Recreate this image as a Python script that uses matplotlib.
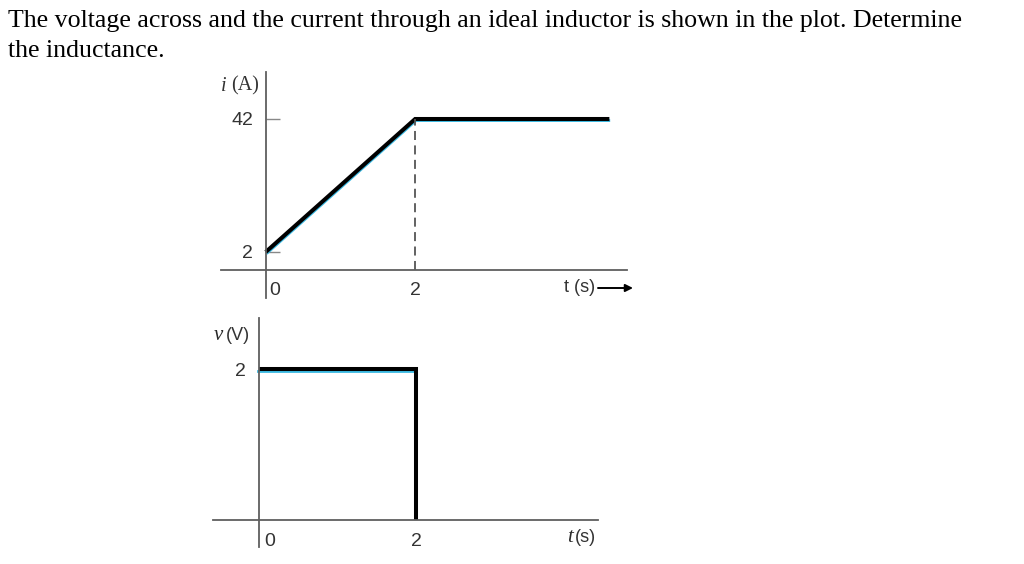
import matplotlib
matplotlib.use("Agg")
import matplotlib.pyplot as plt
import matplotlib.transforms as mtransforms

# ---- data ----
t_current = [0, 2, 4.6]
i_current = [2, 42, 42]
t_voltage = [0, 2, 2]
v_voltage = [2, 2, 0]
i_ticks = [2, 42]
i_ticklabels = ["2", "42"]
v_ticks = [2]
v_ticklabels = ["2"]
t_ticks = [0, 2]
t_ticklabels = ["0", "2"]
title_lines = ["The voltage across and the current through an ideal inductor is shown in the plot. Determine",
               "the inductance."]

plt.rcParams['mathtext.fontset'] = 'stix'
W, H = 1024, 564
fig = plt.figure(figsize=(W / 100, H / 100), dpi=100)

def px_axes(x0, y0, x1, y1):
    return fig.add_axes([x0 / W, 1 - y1 / H, (x1 - x0) / W, (y1 - y0) / H])

AX_COL = "#5f5f5f"
LBL_COL = "#333333"
TICK_FS = 14

# ---- title ----
fig.text(8 / W, 1 - 27 / H, title_lines[0], fontfamily="Liberation Serif", fontsize=18.65,
         color="black", va="baseline", ha="left")
fig.text(8 / W, 1 - 57 / H, title_lines[1], fontfamily="Liberation Serif", fontsize=18.65,
         color="black", va="baseline", ha="left")

# ---- top: current ----
ax1 = px_axes(200, 60, 640, 305)
ax1.set_xlim(-0.88, 5.01)
ax1.set_ylim(-13.94, 59.74)
ax1.patch.set_alpha(0)
for s in ["top", "right"]:
    ax1.spines[s].set_visible(False)
ax1.spines["left"].set_position(("data", 0))
ax1.spines["left"].set_bounds(-11.8, 56.1)
ax1.spines["bottom"].set_position(("data", -3.41))
ax1.spines["bottom"].set_bounds(-0.6, 4.84)
for s in ["left", "bottom"]:
    ax1.spines[s].set_color(AX_COL)
    ax1.spines[s].set_linewidth(1.3)

shadow = mtransforms.offset_copy(ax1.transData, fig=fig, x=0.8, y=-1.6, units="dots")
ax1.plot(t_current, i_current, color="#3ab8e0", lw=2.0, transform=shadow, solid_capstyle="butt")
ax1.plot(t_current, i_current, color="black", lw=2.9, solid_capstyle="butt", solid_joinstyle="miter")
ax1.vlines(t_current[1], -3.41, i_current[1], colors="#555555", linestyles=(0, (5, 3)), lw=1.3)

ax1.set_yticks(i_ticks)
ax1.set_yticklabels(i_ticklabels)
ax1.tick_params(axis="y", direction="in", length=10, width=1.0, color="#888888",
                labelsize=TICK_FS, labelcolor=LBL_COL, pad=9)
ax1.set_xticks(t_ticks)
ax1.set_xticklabels(t_ticklabels)
ax1.tick_params(axis="x", length=0, labelsize=TICK_FS, labelcolor=LBL_COL, pad=9)
for lab in ax1.get_yticklabels() + ax1.get_xticklabels():
    lab.set_fontfamily("Liberation Sans")
xl = ax1.get_xticklabels()[0]
xl.set_ha("left")
xl.set_transform(xl.get_transform() + mtransforms.ScaledTranslation(4 / 100, 0, fig.dpi_scale_trans))

fig.text(259 / W, 1 - 86 / H, "(A)", fontsize=14.5, fontfamily="Liberation Serif",
         color=LBL_COL, ha="right", va="center")
fig.text(227 / W, 1 - 86 / H, "i", fontsize=14.5, fontfamily="Liberation Serif", style="italic",
         color=LBL_COL, ha="right", va="center")
fig.text(564 / W, 1 - 288 / H, "t (s)", fontsize=13, fontfamily="Liberation Sans",
         color=LBL_COL, ha="left", va="center")
ax1.annotate("", xy=(633 / W, 1 - 288 / H), xytext=(598 / W, 1 - 288 / H),
             xycoords="figure fraction", textcoords="figure fraction",
             arrowprops=dict(arrowstyle="-|>", color="black", lw=1.4, mutation_scale=11,
                             shrinkA=0, shrinkB=0))

# ---- bottom: voltage ----
ax2 = px_axes(200, 310, 640, 555)
ax2.set_xlim(-0.757, 4.859)
ax2.set_ylim(-0.4645, 2.787)
ax2.patch.set_alpha(0)
for s in ["top", "right"]:
    ax2.spines[s].set_visible(False)
ax2.spines["left"].set_position(("data", 0))
ax2.spines["left"].set_bounds(-0.358, 2.68)
ax2.spines["bottom"].set_position(("data", 0))
ax2.spines["bottom"].set_bounds(-0.59, 4.32)
for s in ["left", "bottom"]:
    ax2.spines[s].set_color(AX_COL)
    ax2.spines[s].set_linewidth(1.3)

shadow2 = mtransforms.offset_copy(ax2.transData, fig=fig, x=-1.2, y=-1.6, units="dots")
ax2.plot(t_voltage[:2], v_voltage[:2], color="#3ab8e0", lw=2.0, transform=shadow2)
ax2.plot(t_voltage, v_voltage, color="black", lw=2.9, solid_capstyle="butt", solid_joinstyle="miter")

ax2.set_yticks(v_ticks)
ax2.set_yticklabels(v_ticklabels)
ax2.tick_params(axis="y", direction="in", length=0, labelsize=TICK_FS, labelcolor=LBL_COL, pad=10)
ax2.set_xticks(t_ticks)
ax2.set_xticklabels(t_ticklabels)
ax2.tick_params(axis="x", length=0, labelsize=TICK_FS, labelcolor=LBL_COL, pad=9)
for lab in ax2.get_yticklabels() + ax2.get_xticklabels():
    lab.set_fontfamily("Liberation Sans")
xl2 = ax2.get_xticklabels()[0]
xl2.set_ha("left")
xl2.set_transform(xl2.get_transform() + mtransforms.ScaledTranslation(5 / 100, 0, fig.dpi_scale_trans))

fig.text(250 / W, 1 - 335 / H, "(V)", fontsize=13, fontfamily="Liberation Sans",
         color=LBL_COL, ha="right", va="center")
fig.text(223 / W, 1 - 336 / H, "v", fontsize=15, fontfamily="Liberation Serif", style="italic",
         color="#2a2a2a", ha="right", va="center")
fig.text(596 / W, 1 - 538 / H, "(s)", fontsize=13, fontfamily="Liberation Sans",
         color=LBL_COL, ha="right", va="center")
fig.text(573 / W, 1 - 538 / H, "t", fontsize=15, fontfamily="Liberation Serif", style="italic",
         color="#2a2a2a", ha="right", va="center")

fig.savefig("out.png", dpi=100)
